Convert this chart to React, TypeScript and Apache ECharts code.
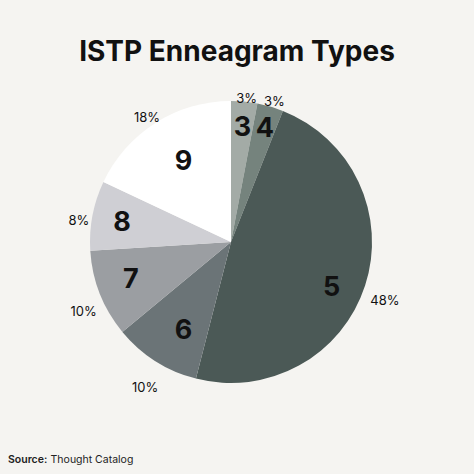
import React, { useEffect, useRef } from "react";
import * as echarts from "echarts";

const types = ["3", "4", "5", "6", "7", "8", "9"];
const shares = [3, 3, 48, 10, 10, 8, 18];
const colors = ["#a3aba6", "#75837d", "#4b5956", "#6b7477", "#9b9ea2", "#cfcfd4", "#ffffff"];
const titleText = "ISTP Enneagram Types";

// per-slice label nudges (pixels)
const numberOffsets = [[1, -5], [3, -8], [-5, 10], [12, -6], [3, -4], [0, 0], [12, 12]];
const pctOffsets = [[0, 21], [-3, 18], [-4, 7], [3, 5], [7, 8], [11, 9], [5, 15]];

export default function App() {
  const ref = useRef<HTMLDivElement>(null);
  useEffect(() => {
    document.body.style.margin = "0";
    const chart = echarts.init(ref.current!, null, { renderer: "svg" });
    const base = types.map((t, i) => ({ name: t, value: shares[i] }));
    chart.setOption({
      animation: false,
      backgroundColor: "#f5f4f1",
      title: {
        text: titleText,
        left: "center",
        top: 32,
        textStyle: { fontFamily: "Inter", fontWeight: 700, fontSize: 28, color: "#111" },
      },
      graphic: [
        {
          type: "text",
          left: 8,
          top: 453,
          style: {
            text: "{b|Source:} {r|Thought Catalog}",
            rich: {
              b: { fontFamily: "Inter", fontWeight: 600, fontSize: 10.5, fill: "#222" },
              r: { fontFamily: "Inter", fontWeight: 400, fontSize: 10.5, fill: "#222" },
            },
          },
        },
      ],
      series: [
        {
          type: "pie",
          center: [231, 242],
          radius: 141,
          startAngle: 90,
          clockwise: true,
          silent: true,
          label: { show: false },
          labelLine: { show: false },
          data: base.map((d, i) => ({ ...d, itemStyle: { color: colors[i] } })),
        },
        {
          type: "pie",
          center: [231, 242],
          radius: 216,
          startAngle: 90,
          clockwise: true,
          silent: true,
          itemStyle: { color: "transparent" },
          label: {
            show: true,
            position: "inside",
            formatter: "{b}",
            fontFamily: "Inter",
            fontWeight: 700,
            fontSize: 27,
            color: "#111",
          },
          labelLine: { show: false },
          data: base.map((d, i) => ({ ...d, label: { offset: numberOffsets[i] } })),
        },
        {
          type: "pie",
          center: [231, 242],
          radius: 326,
          startAngle: 90,
          clockwise: true,
          silent: true,
          itemStyle: { color: "transparent" },
          label: {
            show: true,
            position: "inside",
            formatter: "{c}%",
            fontFamily: "Inter",
            fontWeight: 400,
            fontSize: 13,
            color: "#111",
          },
          labelLine: { show: false },
          data: base.map((d, i) => ({ ...d, label: { offset: pctOffsets[i] } })),
        },
      ],
    });
    return () => chart.dispose();
  }, []);
  return <div ref={ref} style={{ width: 474, height: 474 }} />;
}
